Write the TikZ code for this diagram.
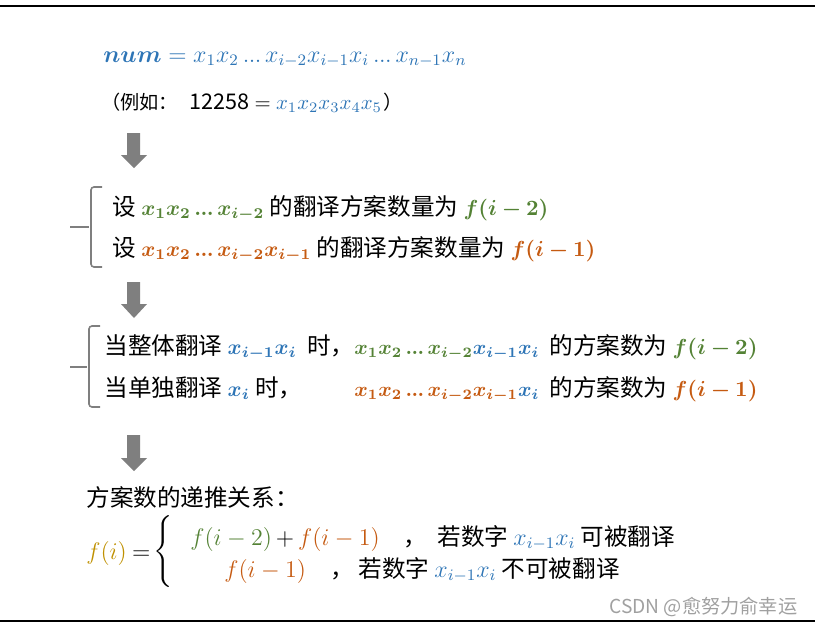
\RequirePackage{fix-cm}
\documentclass[tikz,border=0pt]{standalone}
\usepackage[no-math]{fontspec}
\setmainfont{Noto Sans CJK SC}
\usepackage{amsmath,bm}
\definecolor{cblue}{HTML}{2E75B6}
\definecolor{cgreen}{HTML}{548235}
\definecolor{corange}{HTML}{C55A11}
\definecolor{cgold}{HTML}{BF9000}
\definecolor{cgray}{HTML}{7F7F7F}
\definecolor{cmark}{HTML}{A0A0A0}
\newcommand{\mth}[2]{{\fontsize{#1}{#1}\selectfont$#2$}}
\newcommand{\eld}{\mathinner{.\kern-0.3pt.\kern-0.3pt.}}
\newcommand{\beld}{\mathinner{\bm{.}\kern-0.3pt\bm{.}\kern-0.3pt\bm{.}}}
\tikzset{
  txt/.style={inner sep=0pt, anchor=base west, font=\fontsize{11.8}{14}\selectfont},
  small/.style={font=\fontsize{9.6}{12}\selectfont},
  downarrow/.style={fill=cgray, draw=none},
  bracket/.style={draw=cgray, line width=0.8pt, rounded corners=1.5pt},
  rule/.style={draw=black, line width=1pt}
}
\begin{document}
\begin{tikzpicture}[x=0.5pt, y=-0.5pt]
\useasboundingbox (0,0) rectangle (815,627);
% frame lines
\draw[rule] (0,6) -- (815,6);
\draw[rule] (0,621) -- (815,621);

% definition
\node[txt] (num) at (103,62) {\color{cblue}\mth{12}{\bm{num} = x_1x_2\eld x_{i-2}x_{i-1}x_i\eld x_{n-1}x_n}};
\node[txt, small] (ex1) at (101,109) {（例如：};
\node[txt] (ex2) at (189,109) {{\fontsize{10.8}{13}\selectfont 12258} \mth{10.4}{=} {\color{cblue}\mth{10.4}{x_1x_2x_3x_4x_5}}};
\node[txt, small] (ex3) at (383,109) {）};

% arrow 1
\fill[downarrow] (127,133) -- (140,133) -- (140,155) -- (147,155) -- (134,168) -- (121,155) -- (127,155) -- cycle;

% bracket 1
\draw[bracket] (102,187) -- (91,187) -- (91,267) -- (102,267);
\draw[draw=cgray, line width=0.8pt] (70,227) -- (89,227);
\node[txt] (a1) at (112,215) {设 {\color{cgreen}\mth{10.7}{\bm{x_1x_2}\beld\bm{x_{i-2}}}} 的翻译方案数量为 {\color{cgreen}\mth{10.9}{\bm{f(i-2)}}}};
\node[txt] (a2) at (112,256) {设 {\color{corange}\mth{10.7}{\bm{x_1x_2}\beld\bm{x_{i-2}x_{i-1}}}} 的翻译方案数量为 {\color{corange}\mth{10.9}{\bm{f(i-1)}}}};

% arrow 2
\fill[downarrow] (127,282) -- (140,282) -- (140,304) -- (147,304) -- (134,318) -- (121,304) -- (127,304) -- cycle;

% bracket 2
\draw[bracket] (100,326) -- (89,326) -- (89,407) -- (100,407);
\draw[draw=cgray, line width=0.8pt] (70,367) -- (87,367);
\node[txt] (b1) at (104,354) {当整体翻译 {\color{cblue}\mth{10.7}{\bm{x_{i-1}x_i}}}\ \ 时，};
\node[txt] (b1m) at (354,354) {{\color{cgreen}\mth{10.3}{\bm{x_1x_2}\beld\bm{x_{i-2}}}}{\color{cblue}\mth{10.3}{\bm{x_{i-1}x_i}}}};
\node[txt] (b1r) at (549,354) {的方案数为 {\color{cgreen}\mth{10.9}{\bm{f(i-2)}}}};
\node[txt] (b2) at (104,396) {当单独翻译 {\color{cblue}\mth{10.7}{\bm{x_i}}} 时，};
\node[txt] (b2m) at (354,396) {{\color{corange}\mth{10.3}{\bm{x_1x_2}\beld\bm{x_{i-2}x_{i-1}}}}{\color{cblue}\mth{10.3}{\bm{x_i}}}};
\node[txt] (b2r) at (549,396) {的方案数为 {\color{corange}\mth{10.9}{\bm{f(i-1)}}}};

% arrow 3
\fill[downarrow] (127,435) -- (140,435) -- (140,458) -- (147,458) -- (134,471) -- (121,458) -- (127,458) -- cycle;

% recurrence
\node[txt] (rec) at (86,506) {方案数的递推关系：};
\node[txt] (fi) at (86,559) {{\color{cgold}\mth{12}{f(i)}} \mth{12}{=}};
\node[inner sep=0pt] (br) at (164,552) {\mth{12}{\left\{\vrule height 15.5pt depth 15.5pt width 0pt\right.}};
\node[txt] (c1) at (190,545) {{\color{cgreen}\mth{12}{f(i-2)}}\mth{12}{\,+\,}{\color{corange}\mth{12}{f(i-1)}}};
\node[txt] (c1c) at (403,545) {，};
\node[txt] (c1t) at (437,545) {若数字 {\color{cblue}\mth{12}{x_{i-1}x_i}} 可被翻译};
\node[txt] (c2) at (224,577) {{\color{corange}\mth{12}{f(i-1)}}};
\node[txt] (c2c) at (330,577) {，};
\node[txt] (c2t) at (358,577) {若数字 {\color{cblue}\mth{12}{x_{i-1}x_i}} 不可被翻译};

% watermark
\node[txt, font=\fontsize{9.6}{11}\selectfont, text=cmark] (mark) at (609,613) {CSDN @愈努力俞幸运};
\end{tikzpicture}
\end{document}
